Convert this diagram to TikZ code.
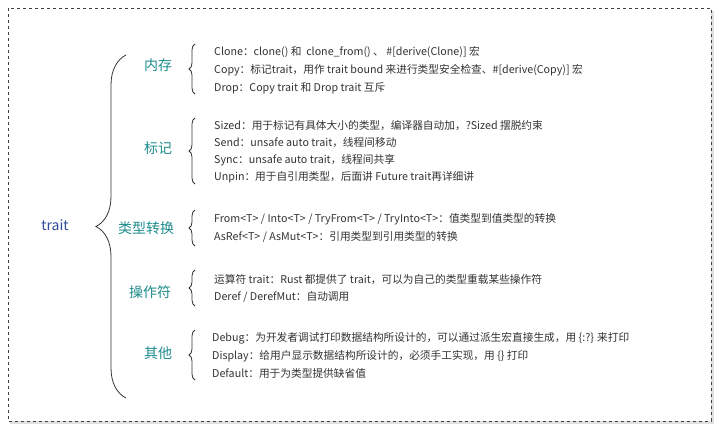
\documentclass[tikz,border=0pt]{standalone}
\usepackage{fontspec}
\setmainfont{Noto Sans CJK SC}
\usetikzlibrary{decorations.pathreplacing}
\definecolor{teal1}{HTML}{1E8C8C}
\definecolor{blue1}{HTML}{2D4B9B}
\definecolor{txt}{HTML}{333333}
\begin{document}
\begin{tikzpicture}[x=1pt,y=-1pt,
  item/.style={anchor=west,inner sep=0pt,font=\fontsize{10.7}{12}\selectfont,text=txt},
  cat/.style={inner sep=0pt,font=\fontsize{14}{16}\selectfont,text=teal1}]
\useasboundingbox (0,0) rectangle (720,434);
\fill[white] (0,0) rectangle (720,434);
\fill[black!12] (10,11) rectangle (714,424);
\draw[dashed,fill=white,line width=0.9pt,draw=black!75] (8,8) rectangle (711,421);
\node[inner sep=0pt,font=\fontsize{14}{16}\selectfont,text=blue1] (t) at (55,225) {trait};
\coordinate (bt) at (126,55); \coordinate (bb) at (126,398);
\draw[decorate,decoration={brace,amplitude=30pt},draw=black!80,line width=0.8pt] (bb) -- (bt);
\node[cat] (c1) at (158,65) {内存};
\node[cat] (c2) at (158,148) {标记};
\node[cat] (c3) at (146,228) {类型转换};
\node[cat] (c4) at (150,292) {操作符};
\node[cat] (c5) at (158,353) {其他};
\tikzset{sb/.style={decorate,decoration={brace,amplitude=6pt},draw=black!80,line width=0.8pt}}
\coordinate (a1) at (195,44); \coordinate (b1) at (195,94);
\coordinate (a2) at (195,118); \coordinate (b2) at (195,184);
\coordinate (a3) at (195,210); \coordinate (b3) at (195,246);
\coordinate (a4) at (195,270); \coordinate (b4) at (195,306);
\coordinate (a5) at (195,330); \coordinate (b5) at (195,380);
\foreach \i in {1,...,5}{\draw[sb] (b\i) -- (a\i);}
\node[item] (l1) at (214,52) {Clone：clone() 和 \ clone\_from() 、 \#[derive(Clone)] 宏};
\node[item] (l2) at (214,70) {Copy：标记trait，用作 trait bound 来进行类型安全检查、\#[derive(Copy)] 宏};
\node[item] (l3) at (214,88) {Drop：Copy trait 和 Drop trait 互斥};
\node[item] (l4) at (214,126) {Sized：用于标记有具体大小的类型，编译器自动加，?Sized 摆脱约束};
\node[item] (l5) at (214,143) {Send：unsafe auto trait，线程间移动};
\node[item] (l6) at (214,160) {Sync：unsafe auto trait，线程间共享};
\node[item] (l7) at (214,177) {Unpin：用于自引用类型，后面讲 Future trait再详细讲};
\node[item] (l8) at (214,219) {From<T> / Into<T> / TryFrom<T> / TryInto<T>：值类型到值类型的转换};
\node[item] (l9) at (214,237) {AsRef<T> / AsMut<T>：引用类型到引用类型的转换};
\node[item] (l10) at (214,280) {运算符 trait：Rust 都提供了 trait，可以为自己的类型重载某些操作符};
\node[item] (l11) at (214,297) {Deref / DerefMut：自动调用};
\node[item] (l12) at (212,338) {Debug：为开发者调试打印数据结构所设计的，可以通过派生宏直接生成，用 \{:?\} 来打印};
\node[item] (l13) at (212,356) {Display：给用户显示数据结构所设计的，必须手工实现，用 \{\} 打印};
\node[item] (l14) at (212,373) {Default：用于为类型提供缺省值};
\end{tikzpicture}
\end{document}
